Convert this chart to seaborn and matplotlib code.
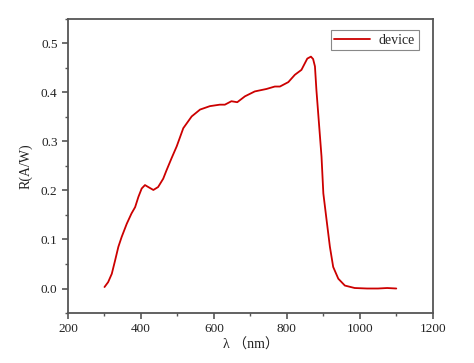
import numpy as np
import pandas as pd
import seaborn as sns
import matplotlib.pyplot as plt
from matplotlib.ticker import MultipleLocator

# values
wavelength = [300, 310, 320, 329, 338, 347, 361, 374, 384, 393, 402, 411, 420, 434,
              447, 461, 470, 484, 498, 516, 539, 562, 589, 616, 630, 648, 664, 685,
              712, 744, 767, 781, 804, 822, 840, 856, 866, 872, 877, 881, 888, 895,
              900, 909, 918, 927, 941, 959, 986, 1020, 1050, 1075, 1100]
responsivity = [0.003, 0.013, 0.030, 0.057, 0.085, 0.105, 0.132, 0.153, 0.166, 0.187,
                0.204, 0.211, 0.207, 0.201, 0.207, 0.224, 0.241, 0.266, 0.290, 0.327,
                0.351, 0.365, 0.372, 0.375, 0.375, 0.382, 0.380, 0.392, 0.402, 0.407,
                0.412, 0.412, 0.421, 0.436, 0.446, 0.469, 0.473, 0.468, 0.453, 0.405,
                0.337, 0.269, 0.194, 0.139, 0.085, 0.044, 0.020, 0.006, 0.001, 0.000,
                0.000, 0.001, 0.000]

df = pd.DataFrame({"wl": wavelength, "R": responsivity})

sns.set_style("ticks")
plt.rcParams['font.family'] = ['Liberation Serif', 'Noto Sans CJK SC', 'DejaVu Sans']

fig = plt.figure(figsize=(4.74, 3.63), dpi=100)
ax = fig.add_axes([0.1435, 0.1377, 0.7695, 0.8103])

sns.lineplot(data=df, x="wl", y="R", ax=ax, color="#cc0000", lw=1.3, label="device")

ax.set_xlim(200, 1200)
ax.set_ylim(-0.05, 0.55)
ax.xaxis.set_major_locator(MultipleLocator(200))
ax.xaxis.set_minor_locator(MultipleLocator(100))
ax.yaxis.set_major_locator(MultipleLocator(0.1))
ax.yaxis.set_minor_locator(MultipleLocator(0.05))
ax.yaxis.set_major_formatter(plt.FuncFormatter(lambda v, p: f"{v:.1f}"))

for s in ax.spines.values():
    s.set_color("#555555")
    s.set_linewidth(1.3)
ax.tick_params(which="major", direction="out", length=4, width=1.2, color="#555555",
               labelsize=9.5, labelcolor="#222222")
ax.tick_params(which="minor", direction="out", length=2.5, width=1.0, color="#555555")

ax.set_xlabel("λ （nm）", fontsize=10, color="#222222", labelpad=2)
ax.set_ylabel("R(A/W)", fontsize=10, color="#222222", labelpad=6)

leg = ax.legend(loc="upper right", bbox_to_anchor=(0.98, 0.985), fontsize=10,
                fancybox=False, framealpha=1, edgecolor="#888888",
                handlelength=2.6, borderpad=0.25, handletextpad=0.6)
leg.get_frame().set_linewidth(0.8)

fig.savefig("out.png", dpi=100)
